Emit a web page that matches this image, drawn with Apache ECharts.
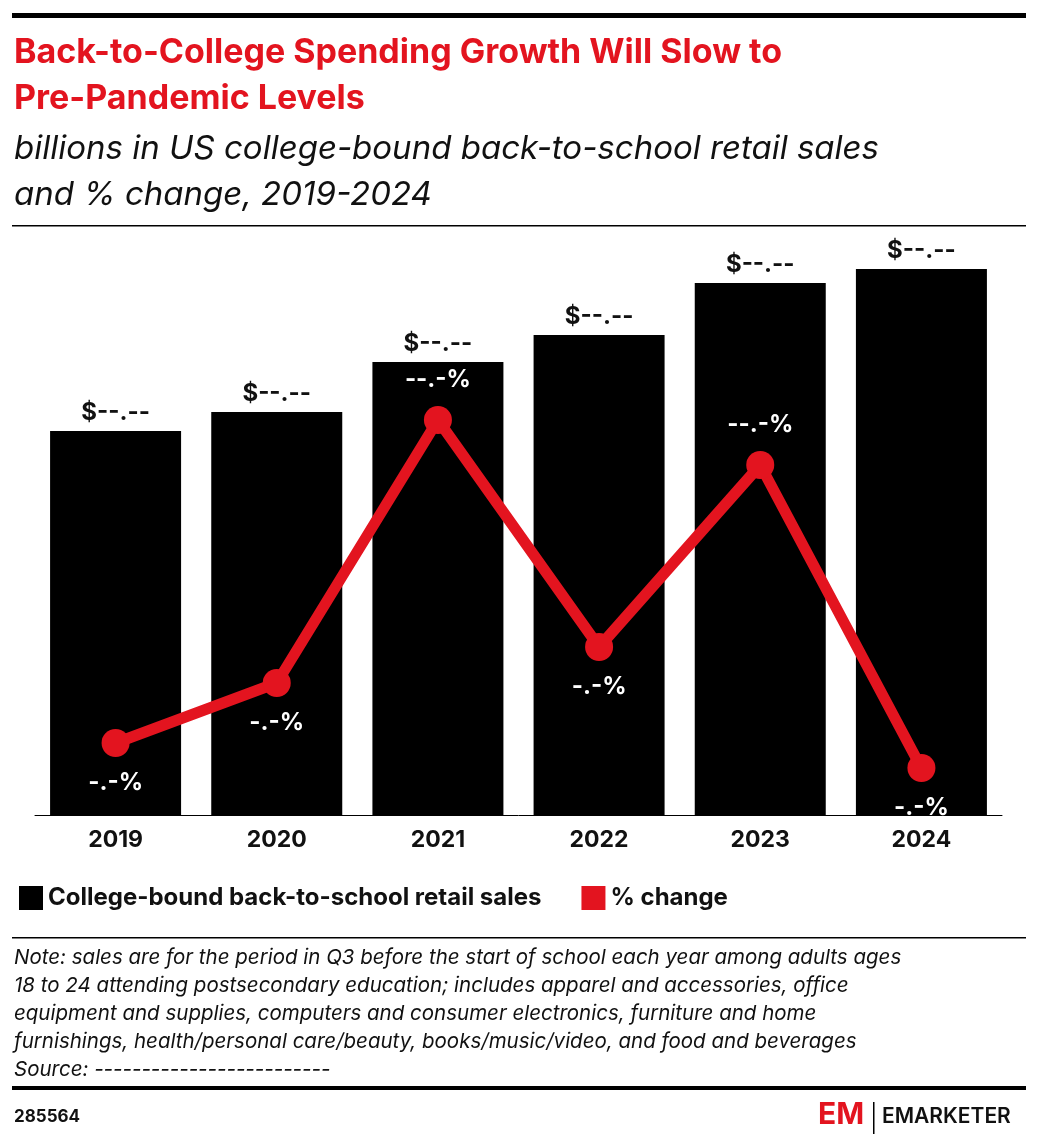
<!DOCTYPE html>
<html><head><meta charset="utf-8">
<script src="https://cdn.jsdelivr.net/npm/echarts@6/dist/echarts.min.js"></script>
<style>html,body{margin:0;padding:0;background:#fff}#c{width:1038px;height:1148px}</style>
</head><body><div id="c"></div>
<script>
const categories = ['2019','2020','2021','2022','2023','2024'];
const salesValues = [384, 403, 453, 480, 532, 546];
const changeValues = [72, 132, 395, 168, 350, 47];
const salesLabels = ['$--.--','$--.--','$--.--','$--.--','$--.--','$--.--'];
const changeLabels = ['-.-%','-.-%','--.-%','-.-%','--.-%','-.-%'];
const changeLabelPos = ['bottom','bottom','top','bottom','top','bottom'];
const noteLines = [
 'Note: sales are for the period in Q3 before the start of school each year among adults ages',
 '18 to 24 attending postsecondary education; includes apparel and accessories, office',
 'equipment and supplies, computers and consumer electronics, furniture and home',
 'furnishings, health/personal care/beauty, books/music/video, and food and beverages',
 'Source: -------------------------'
];
const F = 'Inter, "Open Sans", sans-serif';
const chart = echarts.init(document.getElementById('c'));
const g = [
 {type:'rect',shape:{x:12,y:13,width:1014,height:5},style:{fill:'#000'}},
 {type:'text',left:14,top:30,style:{text:'Back-to-College Spending Growth Will Slow to\nPre-Pandemic Levels',fill:'#e3141f',font:'bold 34px '+F,lineHeight:46}},
 {type:'text',left:14,top:126,style:{text:'billions in US college-bound back-to-school retail sales\nand % change, 2019-2024',fill:'#111',font:'italic 33px '+F,lineHeight:46}},
 {type:'rect',shape:{x:12,y:225,width:1014,height:1.5},style:{fill:'#000'}},
 {type:'rect',shape:{x:12,y:937,width:1014,height:1.5},style:{fill:'#000'}},
 {type:'text',left:14,top:944,style:{text:noteLines.join('\n'),fill:'#111',font:'italic 20.5px '+F,lineHeight:28}},
 {type:'rect',shape:{x:12,y:1086,width:1014,height:4},style:{fill:'#000'}},
 {type:'text',left:14,top:1108,style:{text:'285564',fill:'#111',font:'bold 17px '+F}},
 {type:'text',left:818,top:1100,style:{text:'EM',fill:'#e3141f',font:'bold 30px '+F}},
 {type:'rect',shape:{x:873,y:1102,width:1.5,height:32},style:{fill:'#000'}},
 {type:'text',left:882,top:1106,style:{text:'EMARKETER',fill:'#111',font:'600 21px '+F}}
];
chart.setOption({
 animation:false,
 graphic:g,
 legend:{left:14,top:881,itemWidth:24,itemHeight:24,itemGap:40,icon:'rect',
   textStyle:{fontFamily:F,fontWeight:'bold',fontSize:24,color:'#111'},
   data:['College-bound back-to-school retail sales','% change']},
 grid:{left:35,right:36,top:225,bottom:333},
 xAxis:{type:'category',data:categories,axisTick:{show:false},
   axisLine:{lineStyle:{color:'#000',width:1}},
   axisLabel:{fontFamily:F,fontWeight:'bold',fontSize:23,color:'#111',margin:14}},
 yAxis:[{type:'value',min:0,max:590,show:false,splitLine:{show:false}},
        {type:'value',min:0,max:590,show:false,splitLine:{show:false}}],
 series:[
  {name:'College-bound back-to-school retail sales',type:'bar',data:salesValues,barWidth:131,
   itemStyle:{color:'#000'},
   label:{show:true,position:'top',distance:6,formatter:p=>salesLabels[p.dataIndex],
     fontFamily:F,fontWeight:'bold',fontSize:24,color:'#111'}},
  {name:'% change',type:'line',yAxisIndex:1,
   data:changeValues.map((v,i)=>({value:v,label:{position:changeLabelPos[i]}})),
   lineStyle:{color:'#e3141f',width:11},itemStyle:{color:'#e3141f'},
   symbol:'circle',symbolSize:28,
   label:{show:true,distance:14,formatter:p=>changeLabels[p.dataIndex],
     fontFamily:F,fontWeight:'bold',fontSize:24,color:'#fff'}}
 ]
});
</script></body></html>
